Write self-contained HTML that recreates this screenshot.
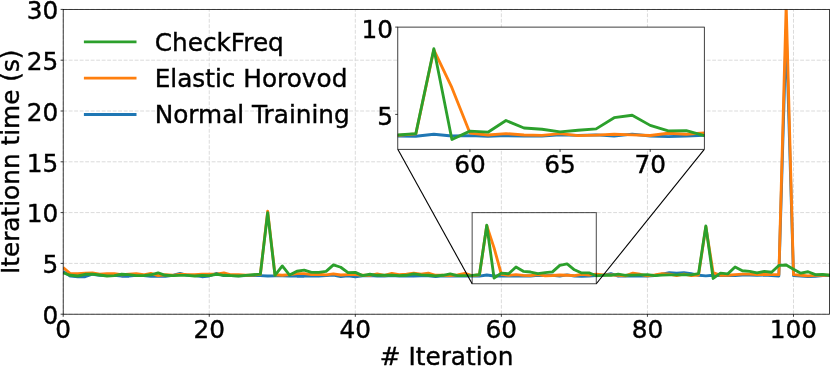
<!DOCTYPE html>
<html lang="en"><head><meta charset="utf-8"><title>Iteration time</title>
<style>html,body{margin:0;padding:0;background:#fff;}body{width:830px;height:370px;overflow:hidden;}svg{display:block;}text{font-family:"DejaVu Sans", "Liberation Sans", sans-serif;font-size:24.75px;fill:#000;stroke:#000;stroke-width:0.4px;}</style>
</head><body>
<svg width="830" height="370" viewBox="0 0 830 370">
<rect x="0" y="0" width="830" height="370" fill="#fff"/>
<defs><clipPath id="cm"><rect x="63.20" y="9.40" width="766.80" height="304.80"/></clipPath>
<clipPath id="ci"><rect x="397.80" y="27.10" width="306.50" height="122.20"/></clipPath></defs>
<g stroke="#dbdbdb" stroke-width="1" stroke-dasharray="3.85 1.65" fill="none">
<line x1="63.20" y1="314.20" x2="63.20" y2="9.40"/>
<line x1="209.26" y1="314.20" x2="209.26" y2="9.40"/>
<line x1="355.31" y1="314.20" x2="355.31" y2="9.40"/>
<line x1="501.37" y1="314.20" x2="501.37" y2="9.40"/>
<line x1="647.43" y1="314.20" x2="647.43" y2="9.40"/>
<line x1="793.49" y1="314.20" x2="793.49" y2="9.40"/>
<line x1="63.20" y1="314.20" x2="830.00" y2="314.20"/>
<line x1="63.20" y1="263.40" x2="830.00" y2="263.40"/>
<line x1="63.20" y1="212.60" x2="830.00" y2="212.60"/>
<line x1="63.20" y1="161.80" x2="830.00" y2="161.80"/>
<line x1="63.20" y1="111.00" x2="830.00" y2="111.00"/>
<line x1="63.20" y1="60.20" x2="830.00" y2="60.20"/>
<line x1="63.20" y1="9.40" x2="830.00" y2="9.40"/>
</g>
<g clip-path="url(#cm)">
<polyline points="63.20,271.43 70.50,276.20 77.81,276.71 85.11,276.71 92.41,274.27 99.71,275.29 107.02,275.69 114.32,275.39 121.62,276.20 128.93,276.20 136.23,275.39 143.53,275.69 150.83,276.30 158.14,276.30 165.44,276.30 172.74,275.39 180.05,273.36 187.35,275.29 194.65,275.69 201.95,276.71 209.26,276.00 216.56,273.36 223.86,275.59 231.17,275.59 238.47,275.80 245.77,275.59 253.07,275.59 260.38,275.69 267.68,276.00 274.98,275.80 282.29,275.80 289.59,276.00 296.89,276.20 304.19,276.20 311.50,276.00 318.80,276.20 326.10,275.59 333.41,275.08 340.71,276.51 348.01,275.80 355.31,276.81 362.62,275.80 369.92,275.59 377.22,276.00 384.53,276.00 391.83,275.59 399.13,276.20 406.43,276.00 413.74,276.20 421.04,275.80 428.34,275.80 435.65,276.51 442.95,275.80 450.25,276.20 457.55,276.00 464.86,275.80 472.16,276.00 479.46,276.10 486.77,274.98 494.07,276.00 501.37,275.80 508.67,276.10 515.98,275.80 523.28,276.00 530.58,276.00 537.89,275.29 545.19,275.59 552.49,275.29 559.79,276.00 567.10,274.88 574.40,276.00 581.70,276.30 589.01,276.00 596.31,275.59 603.61,275.08 610.91,273.56 618.22,276.20 625.52,275.80 632.82,276.00 640.13,275.80 647.43,276.00 654.73,275.59 662.03,274.07 669.34,272.65 676.64,273.15 683.94,272.65 691.25,273.56 698.55,275.29 705.85,275.80 713.15,275.29 720.46,275.59 727.76,275.59 735.06,275.59 742.37,275.19 749.67,275.19 756.97,275.39 764.27,275.19 771.58,275.59 778.88,276.00 786.18,29.72 793.49,275.59 800.79,276.00 808.09,276.61 815.39,276.40 822.70,275.59 830.00,275.59" fill="none" stroke="#1f77b4" stroke-width="2.85" stroke-linejoin="round" stroke-linecap="butt"/>
<polyline points="63.20,267.57 70.50,273.76 77.81,273.76 85.11,273.15 92.41,272.85 99.71,274.27 107.02,273.56 114.32,273.56 121.62,274.78 128.93,274.27 136.23,273.76 143.53,274.78 150.83,273.36 158.14,275.69 165.44,274.78 172.74,275.29 180.05,274.27 187.35,274.58 194.65,274.58 201.95,274.27 209.26,274.07 216.56,274.27 223.86,272.85 231.17,274.78 238.47,274.78 245.77,275.29 253.07,275.08 260.38,274.27 267.68,211.08 274.98,274.78 282.29,275.29 289.59,274.58 296.89,273.56 304.19,273.56 311.50,274.58 318.80,274.27 326.10,274.88 333.41,273.86 340.71,274.98 348.01,274.58 355.31,274.58 362.62,275.29 369.92,275.29 377.22,273.86 384.53,275.29 391.83,273.36 399.13,274.58 406.43,274.07 413.74,273.15 421.04,274.07 428.34,273.15 435.65,275.29 442.95,275.29 450.25,275.59 457.55,274.88 464.86,273.36 472.16,275.59 479.46,274.78 486.77,225.81 494.07,247.86 501.37,274.27 508.67,275.39 515.98,274.58 523.28,275.39 530.58,275.59 537.89,274.58 545.19,275.80 552.49,275.49 559.79,274.98 567.10,275.29 574.40,275.69 581.70,274.37 589.01,274.98 596.31,274.17 603.61,274.88 610.91,274.88 618.22,275.29 625.52,275.80 632.82,273.15 640.13,274.27 647.43,275.80 654.73,274.88 662.03,273.66 669.34,274.07 676.64,275.59 683.94,274.07 691.25,275.59 698.55,275.08 705.85,226.82 713.15,272.65 720.46,275.29 727.76,275.29 735.06,274.58 742.37,274.07 749.67,274.07 756.97,274.68 764.27,274.47 771.58,274.68 778.88,274.68 786.18,5.34 793.49,274.68 800.79,275.29 808.09,275.90 815.39,275.29 822.70,275.29 830.00,275.08" fill="none" stroke="#ff7f0e" stroke-width="2.85" stroke-linejoin="round" stroke-linecap="butt"/>
<polyline points="63.20,272.85 70.50,275.29 77.81,276.00 85.11,274.27 92.41,274.07 99.71,274.98 107.02,276.00 114.32,275.69 121.62,274.27 128.93,274.58 136.23,275.69 143.53,275.69 150.83,274.78 158.14,272.85 165.44,275.29 172.74,275.69 180.05,275.39 187.35,275.39 194.65,276.00 201.95,275.39 209.26,275.69 216.56,274.27 223.86,275.29 231.17,275.69 238.47,276.00 245.77,275.39 253.07,274.78 260.38,274.07 267.68,212.60 274.98,275.29 282.29,265.94 289.59,275.08 296.89,271.22 304.19,270.21 311.50,272.34 318.80,272.34 326.10,271.43 333.41,264.92 340.71,267.26 348.01,272.65 355.31,272.34 362.62,275.59 369.92,274.27 377.22,275.29 384.53,275.29 391.83,275.08 399.13,275.59 406.43,275.29 413.74,273.86 421.04,274.88 428.34,275.29 435.65,275.80 442.95,275.29 450.25,273.86 457.55,275.59 464.86,275.59 472.16,275.39 479.46,274.58 486.77,225.20 494.07,278.03 501.37,273.15 508.67,273.76 515.98,266.96 523.28,271.32 530.58,272.04 537.89,273.56 545.19,272.65 552.49,271.83 559.79,265.33 567.10,263.91 574.40,269.80 581.70,272.95 589.01,272.85 596.31,275.80 603.61,275.08 610.91,275.29 618.22,274.07 625.52,275.29 632.82,275.08 640.13,274.88 647.43,274.58 654.73,275.59 662.03,275.08 669.34,274.88 676.64,274.88 683.94,274.58 691.25,274.88 698.55,273.66 705.85,226.01 713.15,278.44 720.46,273.15 727.76,273.86 735.06,266.96 742.37,270.72 749.67,271.43 756.97,272.85 764.27,271.43 771.58,272.24 778.88,265.43 786.18,265.03 793.49,269.29 800.79,273.15 808.09,271.73 815.39,274.68 822.70,274.37 830.00,275.29" fill="none" stroke="#2ca02c" stroke-width="2.85" stroke-linejoin="round" stroke-linecap="butt"/>
</g>
<g stroke="#000" stroke-width="0.75" fill="none">
<rect x="63.20" y="9.40" width="766.30" height="304.80"/>
<line x1="63.20" y1="314.20" x2="63.20" y2="316.80"/>
<line x1="209.26" y1="314.20" x2="209.26" y2="316.80"/>
<line x1="355.31" y1="314.20" x2="355.31" y2="316.80"/>
<line x1="501.37" y1="314.20" x2="501.37" y2="316.80"/>
<line x1="647.43" y1="314.20" x2="647.43" y2="316.80"/>
<line x1="793.49" y1="314.20" x2="793.49" y2="316.80"/>
<line x1="63.20" y1="314.20" x2="60.60" y2="314.20"/>
<line x1="63.20" y1="263.40" x2="60.60" y2="263.40"/>
<line x1="63.20" y1="212.60" x2="60.60" y2="212.60"/>
<line x1="63.20" y1="161.80" x2="60.60" y2="161.80"/>
<line x1="63.20" y1="111.00" x2="60.60" y2="111.00"/>
<line x1="63.20" y1="60.20" x2="60.60" y2="60.20"/>
<line x1="63.20" y1="9.40" x2="60.60" y2="9.40"/>
</g>
<rect x="472.16" y="212.60" width="124.15" height="71.12" fill="none" stroke="#000" stroke-opacity="0.65" stroke-width="1.1"/>
<g stroke="#000" stroke-width="1.1" fill="none">
<line x1="397.80" y1="149.30" x2="472.16" y2="283.72"/>
<line x1="704.30" y1="149.30" x2="596.31" y2="283.72"/>
</g>
<rect x="397.80" y="27.10" width="306.50" height="122.20" fill="#fff"/>
<g clip-path="url(#ci)">
<polyline points="361.74,136.03 379.77,135.68 397.80,136.03 415.83,136.21 433.86,134.29 451.89,136.03 469.92,135.68 487.95,136.21 505.98,135.68 524.01,136.03 542.04,136.03 560.06,134.81 578.09,135.33 596.12,134.81 614.15,136.03 632.18,134.11 650.21,136.03 668.24,136.56 686.27,136.03 704.30,135.33 722.33,134.46 740.36,131.84" fill="none" stroke="#1f77b4" stroke-width="2.85" stroke-linejoin="round" stroke-linecap="butt"/>
<polyline points="361.74,134.11 379.77,131.49 397.80,135.33 415.83,133.94 433.86,49.79 451.89,87.68 469.92,133.06 487.95,134.99 505.98,133.59 524.01,134.99 542.04,135.33 560.06,133.59 578.09,135.68 596.12,135.16 614.15,134.29 632.18,134.81 650.21,135.51 668.24,133.24 686.27,134.29 704.30,132.89 722.33,134.11 740.36,134.11" fill="none" stroke="#ff7f0e" stroke-width="2.85" stroke-linejoin="round" stroke-linecap="butt"/>
<polyline points="361.74,135.33 379.77,135.33 397.80,134.99 415.83,133.59 433.86,48.75 451.89,139.52 469.92,131.14 487.95,132.19 505.98,120.50 524.01,128.00 542.04,129.22 560.06,131.84 578.09,130.27 596.12,128.88 614.15,117.70 632.18,115.26 650.21,125.38 668.24,130.80 686.27,130.62 704.30,135.68 722.33,134.46 740.36,134.81" fill="none" stroke="#2ca02c" stroke-width="2.85" stroke-linejoin="round" stroke-linecap="butt"/>
</g>
<g stroke="#000" stroke-width="0.75" fill="none">
<rect x="397.80" y="27.10" width="306.50" height="122.20"/>
<line x1="469.92" y1="149.30" x2="469.92" y2="151.90"/>
<line x1="560.06" y1="149.30" x2="560.06" y2="151.90"/>
<line x1="650.21" y1="149.30" x2="650.21" y2="151.90"/>
<line x1="397.80" y1="114.39" x2="395.20" y2="114.39"/>
<line x1="397.80" y1="27.10" x2="395.20" y2="27.10"/>
</g>
<text x="58.20" y="324.02" text-anchor="end">0</text>
<text x="58.20" y="273.22" text-anchor="end">5</text>
<text x="58.20" y="222.42" text-anchor="end">10</text>
<text x="58.20" y="171.62" text-anchor="end">15</text>
<text x="58.20" y="120.82" text-anchor="end">20</text>
<text x="58.20" y="70.02" text-anchor="end">25</text>
<text x="58.20" y="19.22" text-anchor="end">30</text>
<text x="63.20" y="338.20" text-anchor="middle">0</text>
<text x="209.26" y="338.20" text-anchor="middle">20</text>
<text x="355.31" y="338.20" text-anchor="middle">40</text>
<text x="501.37" y="338.20" text-anchor="middle">60</text>
<text x="647.43" y="338.20" text-anchor="middle">80</text>
<text x="793.49" y="338.20" text-anchor="middle">100</text>
<text x="469.92" y="173.00" text-anchor="middle">60</text>
<text x="560.06" y="173.00" text-anchor="middle">65</text>
<text x="650.21" y="173.00" text-anchor="middle">70</text>
<text x="392.90" y="124.91" text-anchor="end">5</text>
<text x="392.90" y="37.62" text-anchor="end">10</text>
<text x="446.60" y="364.70" text-anchor="middle"># Iteration</text>
<text transform="translate(19.40,161.80) rotate(-90)" text-anchor="middle">Iterationn time (s)</text>
<line x1="83.9" y1="41.90" x2="136.5" y2="41.90" stroke="#2ca02c" stroke-width="2.85"/>
<text x="154.70" y="50.80">CheckFreq</text>
<line x1="83.9" y1="78.10" x2="136.5" y2="78.10" stroke="#ff7f0e" stroke-width="2.85"/>
<text x="154.70" y="87.00">Elastic Horovod</text>
<line x1="83.9" y1="114.50" x2="136.5" y2="114.50" stroke="#1f77b4" stroke-width="2.85"/>
<text x="154.70" y="123.40">Normal Training</text>
</svg>
</body></html>
